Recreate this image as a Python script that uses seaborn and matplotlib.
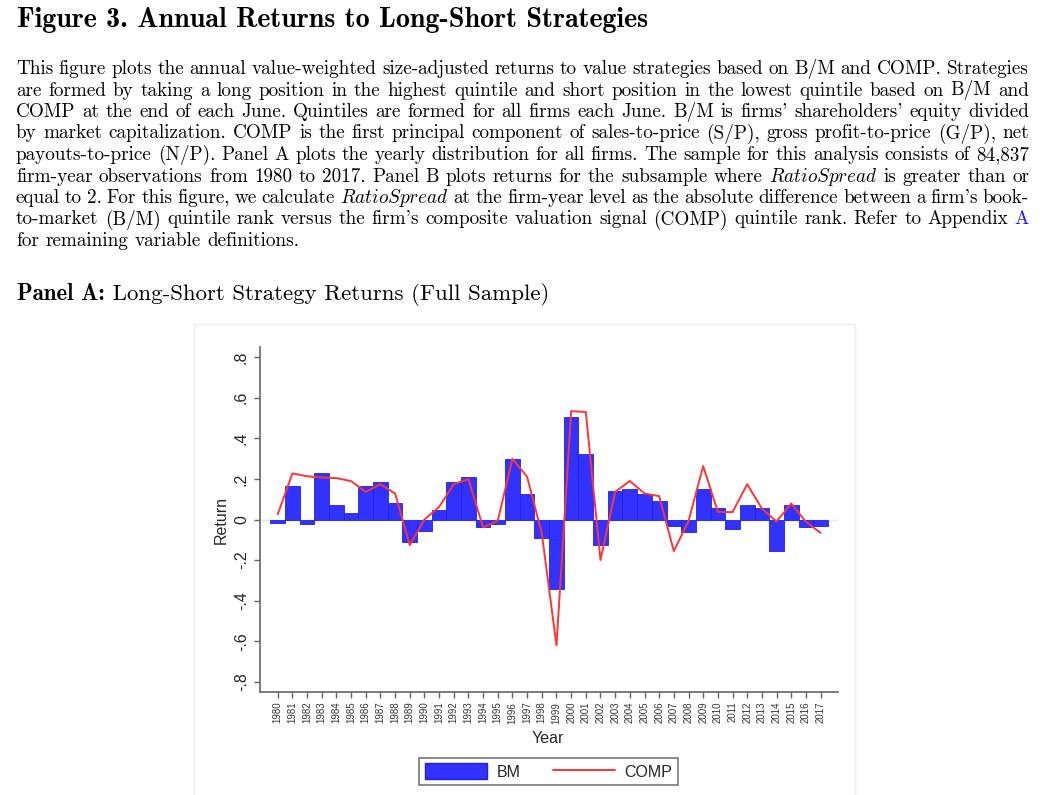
import pandas as pd
import seaborn as sns
import matplotlib.pyplot as plt
from matplotlib.patches import Patch, Rectangle
from matplotlib.lines import Line2D

# values
years = list(range(1980, 2018))
bm = [-0.015, 0.167, -0.02, 0.23, 0.07, 0.03, 0.167, 0.187, 0.082, -0.113,
      -0.057, 0.049, 0.186, 0.21, -0.039, -0.021, 0.30, 0.125, -0.089, -0.343,
      0.506, 0.322, -0.126, 0.141, 0.151, 0.128, 0.092, -0.03, -0.062, 0.151,
      0.059, -0.048, 0.069, 0.059, -0.154, 0.069, -0.039, -0.031]
comp = [0.026, 0.227, 0.213, 0.207, 0.204, 0.189, 0.136, 0.174, 0.128, -0.126,
        0.0, 0.062, 0.174, 0.199, -0.039, -0.005, 0.299, 0.21, -0.069, -0.62,
        0.534, 0.53, -0.2, 0.136, 0.19, 0.128, 0.115, -0.156, -0.008, 0.263,
        0.038, 0.036, 0.174, 0.054, -0.01, 0.079, -0.011, -0.066]
ytick_vals = [-0.8, -0.6, -0.4, -0.2, 0, 0.2, 0.4, 0.6, 0.8]
ytick_labels = ["-.8", "-.6", "-.4", "-.2", "0", ".2", ".4", ".6", ".8"]

title = "Figure 3. Annual Returns to Long-Short Strategies"
panel_bold = "Panel A:"
panel_rest = " Long-Short Strategy Returns (Full Sample)"
# *word* = italic, [word] = link colour
caption = [
    "This figure plots the annual value-weighted size-adjusted returns to value strategies based on B/M and COMP. Strategies",
    "are formed by taking a long position in the highest quintile and short position in the lowest quintile based on B/M and",
    "COMP at the end of each June. Quintiles are formed for all firms each June. B/M is firms' shareholders' equity divided",
    "by market capitalization. COMP is the first principal component of sales-to-price (S/P), gross profit-to-price (G/P), net",
    "payouts-to-price (N/P). Panel A plots the yearly distribution for all firms. The sample for this analysis consists of 84,837",
    "firm-year observations from 1980 to 2017. Panel B plots returns for the subsample where *RatioSpread* is greater than or",
    "equal to 2. For this figure, we calculate *RatioSpread* at the firm-year level as the absolute difference between a firm's book-",
    "to-market (B/M) quintile rank versus the firm's composite valuation signal (COMP) quintile rank. Refer to Appendix [A]",
    "for remaining variable definitions.",
]

sns.set_style("ticks")
plt.rcParams['font.family'] = ['Liberation Sans', 'DejaVu Sans']
plt.rcParams['mathtext.fontset'] = 'cm'

W, H = 1059, 795
fig = plt.figure(figsize=(W / 100, H / 100), dpi=100)
fig.patch.set_facecolor("white")
renderer = fig.canvas.get_renderer()


def put(s, x, y, size, family, color="black"):
    return fig.text(x / W, 1 - y / H, s, fontsize=size, family=family,
                    color=color, va="baseline", ha="left")


def wid(t):
    return t.get_window_extent(renderer).width


def tokens(line, size, y):
    out = []
    for w in line.split():
        col = "black"
        if w.startswith("*"):
            w = r"$\mathit{" + w.strip("*") + "}$"
        elif w.startswith("["):
            w, col = w.strip("[]"), "#1a1aff"
        out.append(put(w, 0, y, size, "cmr10", col))
    return out


# title, fitted to its width in the reference
t = put(title, 17, 27, 10, "cmb10")
t.set_fontsize(10 * (648 - 17) / wid(t))

x0, x1 = 16, 1029
# caption font size: full lines set with ordinary word spaces fill the measure
need = []
for line in caption[:-1]:
    tk = tokens(line, 10, 0)
    nat = sum(wid(a) for a in tk) + (len(tk) - 1) * 10 * 100 / 72 * 0.333
    need.append(10 * (x1 - x0) / nat)
    for a in tk:
        a.remove()
need.sort()
cap_size = need[len(need) // 2]
space = cap_size * 100 / 72 * 0.333

for i, line in enumerate(caption):
    y = 74 + i * 21.5
    toks = tokens(line, cap_size, y)
    ws = [wid(tk) for tk in toks]
    if i == len(caption) - 1:
        gap = space
    else:
        gap = (x1 - x0 - sum(ws)) / (len(toks) - 1)
    x = x0
    for tk, w in zip(toks, ws):
        tk.set_x(x / W)
        x += w + gap

# panel heading
pb = put(panel_bold, 17, 300, 10, "cmb10")
pr = put(panel_rest, 17, 300, 10, "cmr10")
scale = (549 - 17) / (wid(pb) + wid(pr))
pb.set_fontsize(10 * scale)
pr.set_fontsize(10 * scale)
pr.set_x((17 + wid(pb)) / W)

# faint graph region border
fig.patches.append(Rectangle((194 / W, -0.01), (855 - 194) / W, (800 - 329) / H + 0.01,
                             transform=fig.transFigure, fill=False,
                             edgecolor="#eeeeee", lw=1, zorder=0))

df = pd.DataFrame({"Year": years, "BM": bm, "COMP": comp})

ax = fig.add_axes([260 / W, 1 - 692 / H, 578 / W, 345 / H])
ax.set_facecolor("white")
ax.axhline(0, color="#e2e8f2", lw=1, zorder=0)
sns.barplot(data=df, x="Year", y="BM", native_scale=True, width=1,
            color="#3232ff", saturation=1, edgecolor="#2020f0", linewidth=0.6,
            errorbar=None, ax=ax, zorder=2)
sns.lineplot(data=df, x="Year", y="COMP", color="#ff3535", lw=1.4, ax=ax, zorder=3)

ax.set_xlim(1978.79, 2018.19)
ax.set_ylim(-0.85, 0.85)
ax.set_xticks(years)
ax.set_xticklabels([str(y) for y in years], rotation=90, fontsize=7, color="#333333")
ax.set_yticks(ytick_vals)
ax.set_yticklabels(ytick_labels, rotation=90, va="center", fontsize=11.5)
ax.tick_params(axis="both", color="#666666", length=4, width=1)
ax.tick_params(axis="y", pad=4)
ax.tick_params(axis="x", pad=3)
sns.despine(ax=ax)
for s in ["left", "bottom"]:
    ax.spines[s].set_color("#666666")
    ax.spines[s].set_linewidth(1.2)

ax.set_ylabel("Return", fontsize=11.5)
ax.set_xlabel("Year", fontsize=11.5)
ax.yaxis.set_label_coords(-0.054, 0.5)
ax.xaxis.set_label_coords(0.498, -0.113)

handles = [Patch(facecolor="#3232ff", edgecolor="#2020f0"),
           Line2D([], [], color="#ff3535", lw=1.4)]
leg = fig.legend(handles, ["BM", "COMP"], loc="center",
                 bbox_to_anchor=(548.5 / W, 1 - 771.5 / H), ncol=2,
                 fontsize=11.5, frameon=True, fancybox=False,
                 edgecolor="#555555", handlelength=3.9, handleheight=1.1,
                 handletextpad=0.6, columnspacing=2.0, borderpad=0.35)
leg.get_frame().set_linewidth(1.2)

fig.savefig("out.png", dpi=100)
